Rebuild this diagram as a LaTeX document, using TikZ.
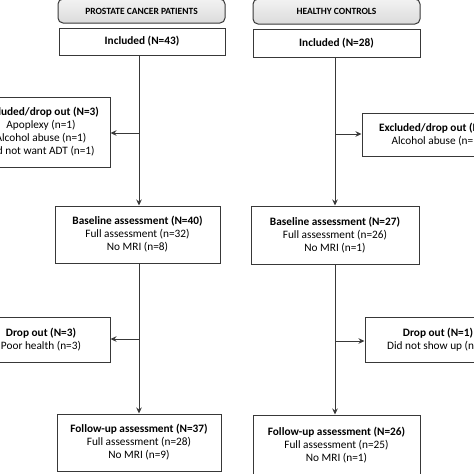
\documentclass[tikz,border=0pt]{standalone}
\usepackage{fontspec}
\setmainfont{Carlito}
\usetikzlibrary{arrows.meta}
\definecolor{boxline}{HTML}{383838}
\begin{document}
\begin{tikzpicture}[x=1pt,y=-1pt,
  box/.style={draw=boxline, line width=1pt, fill=white, inner sep=0pt, align=center, font=\fontsize{11.3}{13}\selectfont},
  hdr/.style={draw=boxline, line width=1pt, rounded corners=5pt, top color=gray!10, bottom color=gray!28, inner sep=0pt, font=\bfseries\fontsize{9.5}{12}\selectfont},
  arr/.style={draw=boxline, line width=1pt, -{Stealth[length=6pt,width=5.5pt]}}]
\clip (0,0) rectangle (474,474);
\fill[white] (0,0) rectangle (474,474);
% trunk coordinates
\coordinate (tL) at (139,0);
\coordinate (tR) at (335,0);
\coordinate (bL1) at (0,133);
\coordinate (bL2) at (0,339);
\coordinate (bR1) at (0,134);
\coordinate (bR2) at (0,341);
% left column
\node[hdr, minimum width=167pt, minimum height=24pt] (hL) at (141.5,11) {PROSTATE CANCER PATIENTS};
\node[box, minimum width=166pt, minimum height=27pt] (inL) at (142,41.5) {\textbf{Included (N=43)}};
\node[box, minimum width=138pt, minimum height=70pt] (exL) at (41,132) {\textbf{Excluded/drop out (N=3)}\\Apoplexy (n=1)\\Alcohol abuse (n=1)\\Did not want ADT (n=1)};
\node[box, minimum width=165pt, minimum height=57pt] (baL) at (137.5,234.5) {\textbf{Baseline assessment (N=40)}\\Full assessment (n=32)\\No MRI (n=8)};
\node[box, minimum width=138pt, minimum height=45pt] (drL) at (41,339.5) {\textbf{Drop out (N=3)}\\Poor health (n=3)};
\node[box, minimum width=164pt, minimum height=57pt] (fuL) at (139,442.5) {\textbf{Follow-up assessment (N=37)}\\Full assessment (n=28)\\No MRI (n=9)};
% right column
\node[hdr, minimum width=167pt, minimum height=25pt] (hR) at (336.5,11.5) {HEALTHY CONTROLS};
\node[box, minimum width=167pt, minimum height=28pt] (inR) at (336.5,43) {\textbf{Included (N=28)}};
\node[box, minimum width=150pt, minimum height=43pt] (exR) at (437,134.5) {\textbf{Excluded/drop out (N=1)}\\Alcohol abuse (n=1)};
\node[box, minimum width=168pt, minimum height=58pt] (baR) at (335,235) {\textbf{Baseline assessment (N=27)}\\Full assessment (n=26)\\No MRI (n=1)};
\node[box, minimum width=146pt, minimum height=45pt] (drR) at (438,339.5) {\textbf{Drop out (N=1)}\\Did not show up (n=1)};
\node[box, minimum width=167pt, minimum height=60pt] (fuR) at (336.5,445) {\textbf{Follow-up assessment (N=26)}\\Full assessment (n=25)\\No MRI (n=1)};
% connectors left
\draw[arr] (inL.south -| tL) -- (baL.north -| tL);
\draw[arr] (bL1 -| tL) -- (bL1 -| exL.east);
\draw[arr] (baL.south -| tL) -- (fuL.north -| tL);
\draw[arr] (bL2 -| tL) -- (bL2 -| drL.east);
% connectors right
\draw[arr] (inR.south -| tR) -- (baR.north -| tR);
\draw[arr] (bR1 -| tR) -- (bR1 -| exR.west);
\draw[arr] (baR.south -| tR) -- (fuR.north -| tR);
\draw[arr] (bR2 -| tR) -- (bR2 -| drR.west);
\end{tikzpicture}
\end{document}
